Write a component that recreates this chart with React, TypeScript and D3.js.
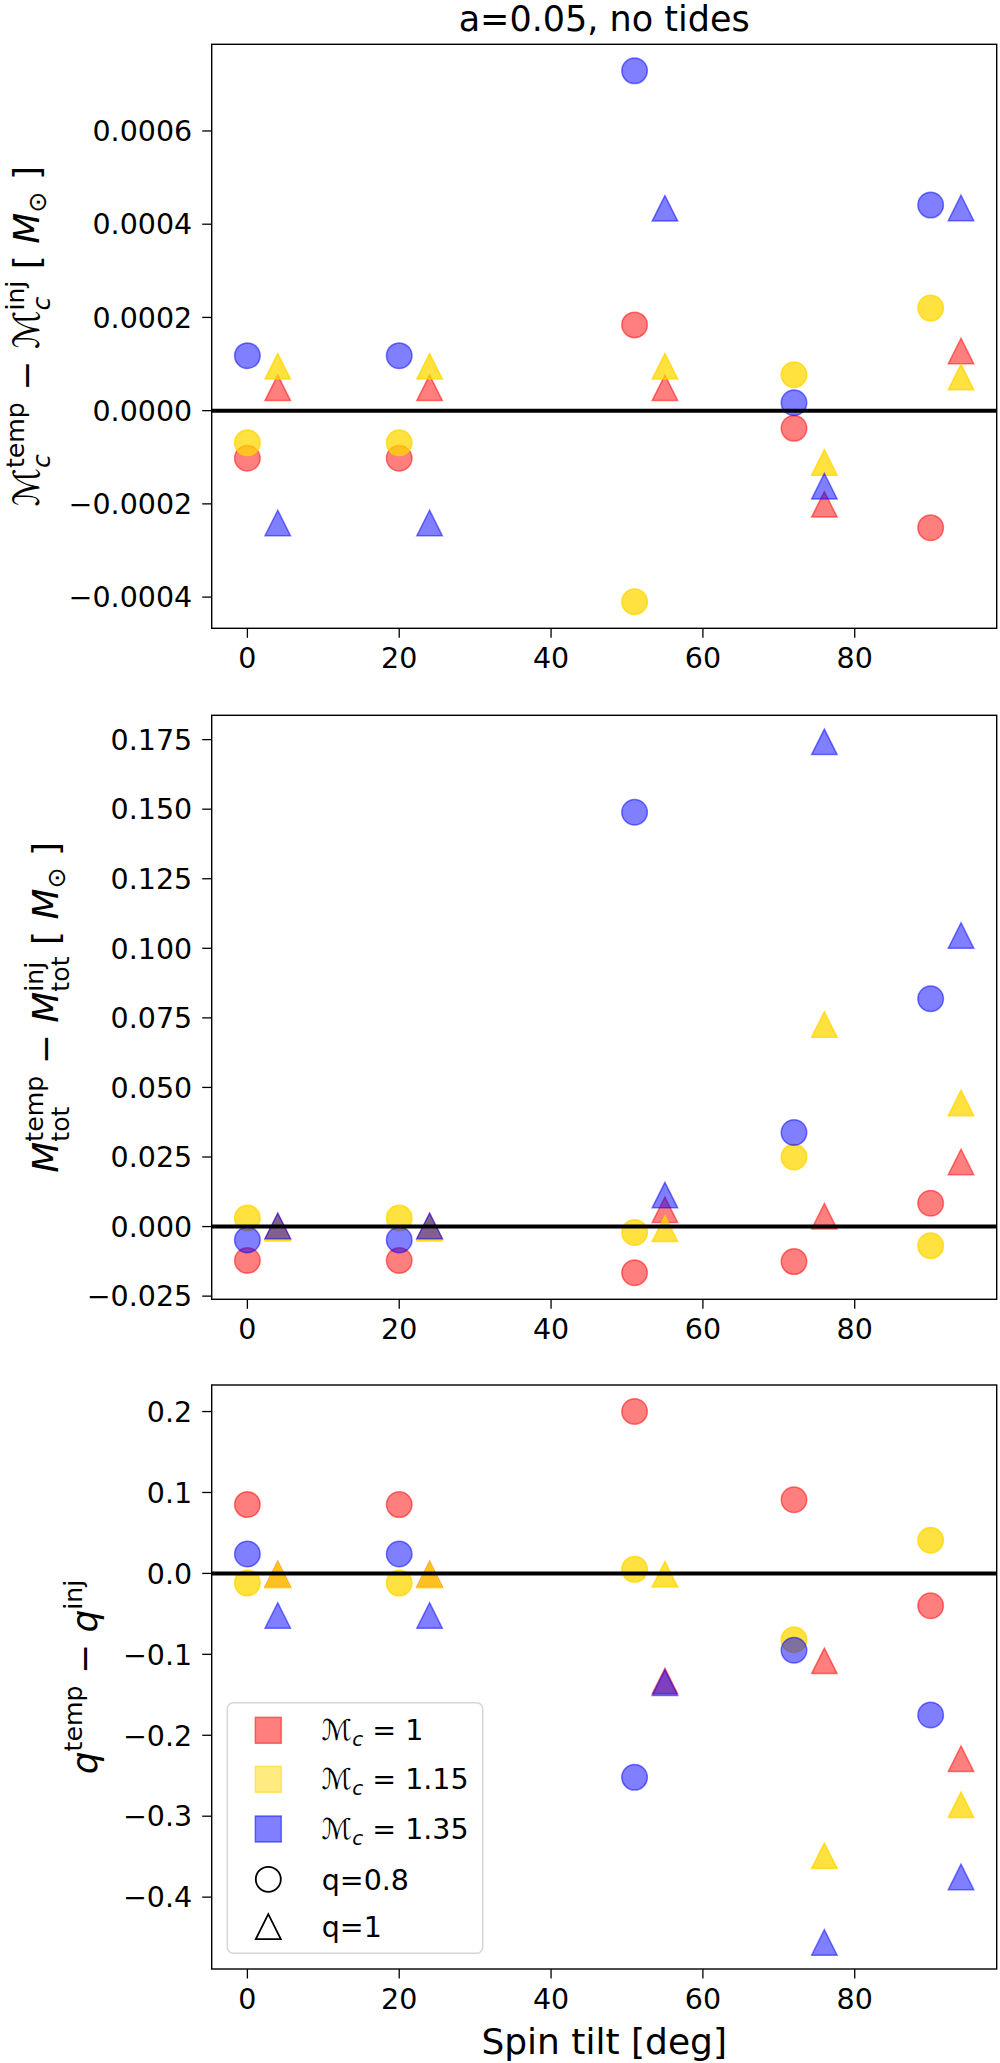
import React, { useEffect, useRef } from "react";
import * as d3 from "d3";

// ---------- data ----------
const tiltQ08 = [0, 20, 51, 72, 90]; // circles (q=0.8)
const tiltQ1 = [4, 24, 55, 76, 94]; // triangles (q=1)

const seriesNames = ["Mc=1", "Mc=1.15", "Mc=1.35"];
const seriesColors = ["#ff0000", "#ffd700", "#0000ff"];
const seriesAlpha = [0.5, 0.75, 0.5];

// panel 1: chirp mass difference
const dMcCircle = [
  [-0.000102, -0.000102, 0.000184, -0.000038, -0.000251],
  [-0.000069, -0.000069, -0.00041, 0.000077, 0.00022],
  [0.000118, 0.000118, 0.000729, 0.000017, 0.000441],
];
const dMcTriangle = [
  [0.000049, 0.000049, 0.000049, -0.000201, 0.000128],
  [0.000095, 0.000095, 0.000095, -0.000111, 0.000072],
  [-0.000241, -0.000241, 0.000434, -0.000162, 0.000435],
];
// panel 2: total mass difference
const dMtotCircle = [
  [-0.0122, -0.0122, -0.0166, -0.0126, 0.0084],
  [0.0031, 0.0031, -0.0021, 0.025, -0.0069],
  [-0.0048, -0.0048, 0.1489, 0.0338, 0.0819],
];
const dMtotTriangle = [
  [0.0001, 0.0001, 0.006, 0.0037, 0.0232],
  [-0.0006, -0.0006, -0.0008, 0.0726, 0.0444],
  [0.0002, 0.0002, 0.0113, 0.1742, 0.1046],
];
// panel 3: mass ratio difference
const dqCircle = [
  [0.085, 0.085, 0.2, 0.091, -0.04],
  [-0.012, -0.012, 0.005, -0.082, 0.041],
  [0.024, 0.024, -0.252, -0.095, -0.175],
];
const dqTriangle = [
  [-0.001, -0.001, -0.133, -0.108, -0.229],
  [-0.002, -0.002, -0.001, -0.349, -0.286],
  [-0.052, -0.052, -0.135, -0.456, -0.375],
];

const xTicks = [0, 20, 40, 60, 80];
const yTicks1 = [-0.0004, -0.0002, 0.0, 0.0002, 0.0004, 0.0006];
const yTicks2 = [-0.025, 0.0, 0.025, 0.05, 0.075, 0.1, 0.125, 0.15, 0.175];
const yTicks3 = [-0.4, -0.3, -0.2, -0.1, 0.0, 0.1, 0.2];
const yDecimals = [4, 3, 1];

const legendLabels = ["1", "1.15", "1.35"];
const titleText = "a=0.05, no tides";
const xLabelText = "Spin tilt [deg]";

// ---------- layout ----------
const W = 1000;
const H = 2063;
const FONT = "'DejaVu Sans', sans-serif";
const CALFONT = "'DejaVu Serif', 'DejaVu Sans', serif";
const axLeft = 211.7;
const axRight = 996.7;
const axTops = [44.3, 715.3, 1385];
const axH = 584;
const tickFs = 28.5;
const labelFs = 36;
const markerSize = 25.5;

type Run = { t: string; s: "cal" | "it" | "rm" };
type Piece = { base?: Run; sup?: Run; sub?: Run };

function drawMath(
  parent: d3.Selection<SVGGElement, unknown, null, undefined>,
  pieces: Piece[],
  fs: number
) {
  const g = parent.append("g");
  let x = 0;
  const sfs = fs * 0.7;
  const styleRun = (sel: any, r: Run, size: number) => {
    sel
      .attr("font-family", r.s === "cal" ? CALFONT : FONT)
      .attr("font-size", size)
      .attr("font-style", r.s === "it" || r.s === "cal" ? "italic" : "normal")
      .attr("fill", "#000")
      .attr("xml:space", "preserve")
      .style("white-space", "pre")
      .text(r.t);
  };
  for (const p of pieces) {
    if (p.base) {
      const t = g.append("text").attr("x", x).attr("y", 0);
      styleRun(t, p.base, fs);
      x += (t.node() as SVGTextElement).getComputedTextLength();
    }
    let w = 0;
    const both = p.sup && p.sub;
    if (p.sup) {
      const t = g.append("text").attr("x", x).attr("y", -fs * 0.42);
      styleRun(t, p.sup, sfs);
      w = Math.max(w, (t.node() as SVGTextElement).getComputedTextLength());
    }
    if (p.sub) {
      const t = g
        .append("text")
        .attr("x", x)
        .attr("y", both ? fs * 0.3 : fs * 0.2);
      styleRun(t, p.sub, sfs);
      w = Math.max(w, (t.node() as SVGTextElement).getComputedTextLength());
    }
    x += w;
  }
  return { g, width: x };
}

export default function App() {
  const ref = useRef<SVGSVGElement | null>(null);

  useEffect(() => {
    const svg = d3.select(ref.current as SVGSVGElement);
    svg.selectAll("*").remove();

    const xScale = d3.scaleLinear().domain([-4.7, 98.7]).range([axLeft, axRight]);

    const panels = [
      { c: dMcCircle, t: dMcTriangle, ticks: yTicks1 },
      { c: dMtotCircle, t: dMtotTriangle, ticks: yTicks2 },
      { c: dqCircle, t: dqTriangle, ticks: yTicks3 },
    ];

    const triPath = (s: number) => {
      const h = s / 2;
      return `M0,${-h}L${-h},${h}L${h},${h}Z`;
    };

    panels.forEach((p, pi) => {
      const top = axTops[pi];
      const bottom = top + axH;
      const all = [...p.c.flat(), ...p.t.flat()];
      const mn = d3.min(all) as number;
      const mx = d3.max(all) as number;
      const pad = (mx - mn) * 0.05;
      const y = d3.scaleLinear().domain([mn - pad, mx + pad]).range([bottom, top]);

      const g = svg.append("g");

      for (let s = 0; s < 3; s++) {
        const col = d3.color(seriesColors[s]) as d3.RGBColor;
        const rgba = `rgba(${col.r},${col.g},${col.b},${seriesAlpha[s]})`;
        g.append("g")
          .selectAll("circle")
          .data(p.c[s])
          .join("circle")
          .attr("cx", (_d, i) => xScale(tiltQ08[i]))
          .attr("cy", (d) => y(d))
          .attr("r", markerSize / 2)
          .attr("fill", rgba)
          .attr("stroke", rgba)
          .attr("stroke-width", 1.5);
        g.append("g")
          .selectAll("path")
          .data(p.t[s])
          .join("path")
          .attr("transform", (d, i) => `translate(${xScale(tiltQ1[i])},${y(d)})`)
          .attr("d", triPath(markerSize))
          .attr("fill", rgba)
          .attr("stroke", rgba)
          .attr("stroke-width", 1.5)
          .attr("stroke-linejoin", "miter");
      }

      g.append("line")
        .attr("x1", axLeft)
        .attr("x2", axRight)
        .attr("y1", y(0))
        .attr("y2", y(0))
        .attr("stroke", "#000")
        .attr("stroke-width", 4);

      g.append("rect")
        .attr("x", axLeft)
        .attr("y", top)
        .attr("width", axRight - axLeft)
        .attr("height", axH)
        .attr("fill", "none")
        .attr("stroke", "#000")
        .attr("stroke-width", 1.4);

      const yt = g.append("g");
      p.ticks.forEach((v) => {
        const yy = y(v);
        yt.append("line")
          .attr("x1", axLeft - 9.5)
          .attr("x2", axLeft)
          .attr("y1", yy)
          .attr("y2", yy)
          .attr("stroke", "#000")
          .attr("stroke-width", 1.3);
        const txt = v.toFixed(yDecimals[pi]).replace("-", "\u2212");
        yt.append("text")
          .attr("x", axLeft - 19.5)
          .attr("y", yy)
          .attr("dy", "0.36em")
          .attr("text-anchor", "end")
          .attr("font-family", FONT)
          .attr("font-size", tickFs)
          .text(txt);
      });

      const xt = g.append("g");
      xTicks.forEach((v) => {
        const xx = xScale(v);
        xt.append("line")
          .attr("x1", xx)
          .attr("x2", xx)
          .attr("y1", bottom)
          .attr("y2", bottom + 9.5)
          .attr("stroke", "#000")
          .attr("stroke-width", 1.3);
        xt.append("text")
          .attr("x", xx)
          .attr("y", bottom + 40)
          .attr("text-anchor", "middle")
          .attr("font-family", FONT)
          .attr("font-size", tickFs)
          .text(String(v));
      });
    });

    const CAL = "\u2133";
    const labels: { pieces: Piece[]; x: number }[] = [
      {
        x: 39,
        pieces: [
          { base: { t: CAL, s: "cal" }, sup: { t: "temp", s: "rm" }, sub: { t: "c", s: "it" } },
          { base: { t: " \u2212 ", s: "rm" } },
          { base: { t: CAL, s: "cal" }, sup: { t: "inj", s: "rm" }, sub: { t: "c", s: "it" } },
          { base: { t: " [ ", s: "rm" } },
          { base: { t: "M", s: "it" }, sub: { t: "\u2299", s: "rm" } },
          { base: { t: " ]", s: "rm" } },
        ],
      },
      {
        x: 58,
        pieces: [
          { base: { t: "M", s: "it" }, sup: { t: "temp", s: "rm" }, sub: { t: "tot", s: "rm" } },
          { base: { t: " \u2212 ", s: "rm" } },
          { base: { t: "M", s: "it" }, sup: { t: "inj", s: "rm" }, sub: { t: "tot", s: "rm" } },
          { base: { t: " [ ", s: "rm" } },
          { base: { t: "M", s: "it" }, sub: { t: "\u2299", s: "rm" } },
          { base: { t: " ]", s: "rm" } },
        ],
      },
      {
        x: 97,
        pieces: [
          { base: { t: "q", s: "it" }, sup: { t: "temp", s: "rm" } },
          { base: { t: " \u2212 ", s: "rm" } },
          { base: { t: "q", s: "it" }, sup: { t: "inj", s: "rm" } },
        ],
      },
    ];
    labels.forEach((lab, i) => {
      const cy = axTops[i] + axH / 2;
      const holder = svg.append("g");
      const { g, width } = drawMath(holder as any, lab.pieces, labelFs);
      holder.attr("transform", `translate(${lab.x},${cy}) rotate(-90)`);
      g.attr("transform", `translate(${-width / 2},0)`);
    });

    svg
      .append("text")
      .attr("x", (axLeft + axRight) / 2)
      .attr("y", 31)
      .attr("text-anchor", "middle")
      .attr("font-family", FONT)
      .attr("font-size", 35)
      .text(titleText);

    svg
      .append("text")
      .attr("x", (axLeft + axRight) / 2)
      .attr("y", 2054)
      .attr("text-anchor", "middle")
      .attr("font-family", FONT)
      .attr("font-size", labelFs)
      .text(xLabelText);

    const lx = axLeft + 15.6;
    const ly = axTops[2] + axH - 15.7 - 250.6;
    const lg = svg.append("g").attr("transform", `translate(${lx},${ly})`);
    lg.append("rect")
      .attr("x", 0)
      .attr("y", 0)
      .attr("width", 255.4)
      .attr("height", 250.6)
      .attr("rx", 6)
      .attr("fill", "rgba(255,255,255,0.8)")
      .attr("stroke", "#d6d6d6")
      .attr("stroke-width", 1.5);
    const rowY = [27.6, 76.6, 126.3, 176.6, 224];
    const mx0 = 41;
    const tx0 = 94.4;
    for (let s = 0; s < 3; s++) {
      const col = d3.color(seriesColors[s]) as d3.RGBColor;
      const rgba = `rgba(${col.r},${col.g},${col.b},0.5)`;
      lg.append("rect")
        .attr("x", mx0 - 13)
        .attr("y", rowY[s] - 13)
        .attr("width", 26)
        .attr("height", 26)
        .attr("fill", rgba)
        .attr("stroke", rgba)
        .attr("stroke-width", 1.5);
      const holder = lg.append("g").attr("transform", `translate(${tx0},${rowY[s] + 10})`);
      drawMath(
        holder as any,
        [
          { base: { t: CAL, s: "cal" }, sub: { t: "c", s: "it" } },
          { base: { t: " = " + legendLabels[s], s: "rm" } },
        ],
        tickFs
      );
    }
    lg.append("circle")
      .attr("cx", mx0)
      .attr("cy", rowY[3])
      .attr("r", 12.5)
      .attr("fill", "none")
      .attr("stroke", "#000")
      .attr("stroke-width", 1.8);
    lg.append("path")
      .attr("transform", `translate(${mx0},${rowY[4]})`)
      .attr("d", triPath(25))
      .attr("fill", "none")
      .attr("stroke", "#000")
      .attr("stroke-width", 1.8);
    ["q=0.8", "q=1"].forEach((t, i) => {
      lg.append("text")
        .attr("x", tx0)
        .attr("y", rowY[3 + i])
        .attr("dy", "0.36em")
        .attr("font-family", FONT)
        .attr("font-size", tickFs)
        .text(t);
    });
  }, []);

  return (
    <svg
      ref={ref}
      width={W}
      height={H}
      viewBox={`0 0 ${W} ${H}`}
      style={{ position: "absolute", left: 0, top: 0, background: "#fff", display: "block" }}
    />
  );
}
